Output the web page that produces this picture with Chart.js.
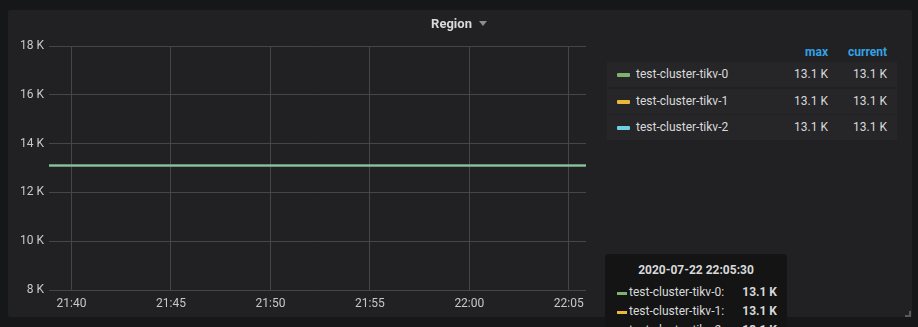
<!DOCTYPE html>
<html>
<head>
<meta charset="utf-8">
<script src="https://cdn.jsdelivr.net/npm/chart.js@4"></script>
<style>
  html, body { margin: 0; padding: 0; background: #161719; }
  body { width: 918px; height: 327px; position: relative; overflow: hidden; font-family: Roboto, "Noto Sans", sans-serif; }
  .panel { position: absolute; left: 8px; top: 10px; width: 904px; height: 307px; background: #212124; border-radius: 2px; }
  #chart { position: absolute; left: 0; top: 0; }
  .title { position: absolute; top: 16px; left: 0; width: 918px; text-align: center; color: #d8d9da; font-size: 13px; font-weight: 700; }
  .title .caret { display: inline-block; width: 0; height: 0; margin-left: 7px; vertical-align: 2px;
    border-left: 4px solid transparent; border-right: 4px solid transparent; border-top: 5px solid #8e8e8e; }
  .lg-head { position: absolute; top: 45px; color: #33a2e5; font-size: 12px; font-weight: 700; text-align: right; }
  .lg-row { position: absolute; left: 607px; width: 290px; height: 25px; background: #262629; color: #d8d9da; font-size: 12px; }
  .lg-row .sw { position: absolute; left: 10px; top: 11px; width: 13px; height: 4px; border-radius: 1px; }
  .lg-row .nm { position: absolute; left: 29px; top: 5px; }
  .lg-row .v { position: absolute; top: 5px; text-align: right; width: 60px; }
  .tip { position: absolute; left: 605px; top: 254px; width: 182px; height: 90px; background: #141414; border-radius: 4px; color: #d8d9da; font-size: 12px; }
  .tip .tt { position: absolute; top: 9px; width: 100%; text-align: center; font-weight: 700; }
  .tip .row { position: absolute; left: 12px; width: 160px; height: 16px; }
  .tip .sw { position: absolute; left: 0; top: 7px; width: 10px; height: 3px; }
  .tip .nm { position: absolute; left: 12px; top: 0; }
  .tip .v { position: absolute; right: 0; top: 0; font-weight: 700; }
  .grip { position: absolute; left: 905px; top: 311px; width: 4px; height: 4px; border-right: 2px solid #5a5a5d; border-bottom: 2px solid #5a5a5d; }
</style>
</head>
<body>
<div class="panel"></div>
<canvas id="chart" width="600" height="317"></canvas>
<div class="title">Region<span class="caret"></span></div>
<div id="legend"></div>
<div class="grip"></div>
<div id="tip" class="tip"></div>
<script>
// series
const seriesNames  = ['test-cluster-tikv-0', 'test-cluster-tikv-1', 'test-cluster-tikv-2'];
const seriesColors = ['#7EB26D', '#EAB839', '#6ED0E0'];

const times = ['21:38:30','21:39:30','21:40:30','21:41:30','21:42:30','21:43:30','21:44:30','21:45:30',
  '21:46:30','21:47:30','21:48:30','21:49:30','21:50:30','21:51:30','21:52:30','21:53:30','21:54:30',
  '21:55:30','21:56:30','21:57:30','21:58:30','21:59:30','22:00:30','22:01:30','22:02:30','22:03:30',
  '22:04:30','22:05:30','22:06:30'];

const tikv0 = [13100,13100,13100,13100,13100,13100,13100,13100,13100,13100,13100,13100,13100,13100,13100,
  13100,13100,13100,13100,13100,13100,13100,13100,13100,13100,13100,13100,13100,13100];
const tikv1 = [13100,13100,13100,13100,13100,13100,13100,13100,13100,13100,13100,13100,13100,13100,13100,
  13100,13100,13100,13100,13100,13100,13100,13100,13100,13100,13100,13100,13100,13100];
const tikv2 = [13100,13100,13100,13100,13100,13100,13100,13100,13100,13100,13100,13100,13100,13100,13100,
  13100,13100,13100,13100,13100,13100,13100,13100,13100,13100,13100,13100,13100,13100];
const seriesValues = [tikv0, tikv1, tikv2];

const xTickLabels = ['21:40', '21:45', '21:50', '21:55', '22:00', '22:05'];
const yTicks = [8000, 10000, 12000, 14000, 16000, 18000];
const xRange = ['21:38:52', '22:05:52'];

const hoverDate = '2020-07-22';
const hoverTime = '22:05:30';

function toSec(s) {
  const p = s.split(':').map(Number);
  return p[0] * 3600 + p[1] * 60 + (p[2] || 0);
}
function fmtTime(sec) {
  const h = Math.floor(sec / 3600), m = Math.floor((sec % 3600) / 60);
  return String(h).padStart(2, '0') + ':' + String(m).padStart(2, '0');
}
function fmtK(v) { return (v / 1000).toFixed(1) + ' K'; }

// overlapping lines: later series drawn on top, semi-transparent so they blend like the original
const lineColors = ['#7EB26D', 'rgba(234,184,57,0.35)', 'rgba(110,208,224,0.6)'];

const datasets = seriesNames.map((name, i) => ({
  label: name,
  data: seriesValues[i].map((v, j) => ({ x: toSec(times[j]), y: v })),
  borderColor: lineColors[i],
  borderWidth: 2,
  pointRadius: 0,
  tension: 0,
  fill: false,
  order: 2 - i
}));

const tickColor = '#c7c8ca';
const gridColor = '#464649';

new Chart(document.getElementById('chart'), {
  type: 'line',
  data: { datasets },
  options: {
    responsive: false,
    animation: false,
    layout: { padding: { left: 0, top: 46, right: 14, bottom: 0 } },
    plugins: { legend: { display: false }, tooltip: { enabled: false }, title: { display: false } },
    scales: {
      x: {
        type: 'linear',
        min: toSec(xRange[0]),
        max: toSec(xRange[1]),
        afterBuildTicks: s => { s.ticks = xTickLabels.map(t => ({ value: toSec(t) })); },
        afterFit: s => { s.height = 27; },
        ticks: { color: tickColor, font: { family: 'Roboto', size: 12 }, padding: 7, maxRotation: 0,
                 callback: v => fmtTime(v) },
        grid: { color: gridColor, drawTicks: false },
        border: { display: false }
      },
      y: {
        min: yTicks[0],
        max: yTicks[yTicks.length - 1],
        afterBuildTicks: s => { s.ticks = yTicks.map(v => ({ value: v })); },
        afterFit: s => { s.width = 49; },
        ticks: { color: tickColor, font: { family: 'Roboto', size: 12 }, padding: 5,
                 callback: v => (v / 1000) + ' K' },
        grid: { color: gridColor, drawTicks: false },
        border: { display: false }
      }
    }
  }
});

// legend table
const legend = document.getElementById('legend');
let html = '<div class="lg-head" style="left:768px;width:60px">max</div>' +
           '<div class="lg-head" style="left:827px;width:60px">current</div>';
const rowTops = [62, 89, 115];
seriesNames.forEach((name, i) => {
  const vals = seriesValues[i];
  html += '<div class="lg-row" style="top:' + rowTops[i] + 'px">' +
    '<div class="sw" style="background:' + seriesColors[i] + '"></div>' +
    '<div class="nm">' + name + '</div>' +
    '<div class="v" style="left:161px">' + fmtK(Math.max(...vals)) + '</div>' +
    '<div class="v" style="left:220px">' + fmtK(vals[vals.length - 1]) + '</div></div>';
});
legend.innerHTML = html;

// hover tooltip
const hi = times.indexOf(hoverTime);
let tip = '<div class="tt">' + hoverDate + ' ' + hoverTime + '</div>';
seriesNames.forEach((name, i) => {
  tip += '<div class="row" style="top:' + (31 + i * 19) + 'px">' +
    '<div class="sw" style="background:' + seriesColors[i] + '"></div>' +
    '<div class="nm">' + name + ':</div>' +
    '<div class="v">' + fmtK(seriesValues[i][hi]) + '</div></div>';
});
document.getElementById('tip').innerHTML = tip;
</script>
</body>
</html>
